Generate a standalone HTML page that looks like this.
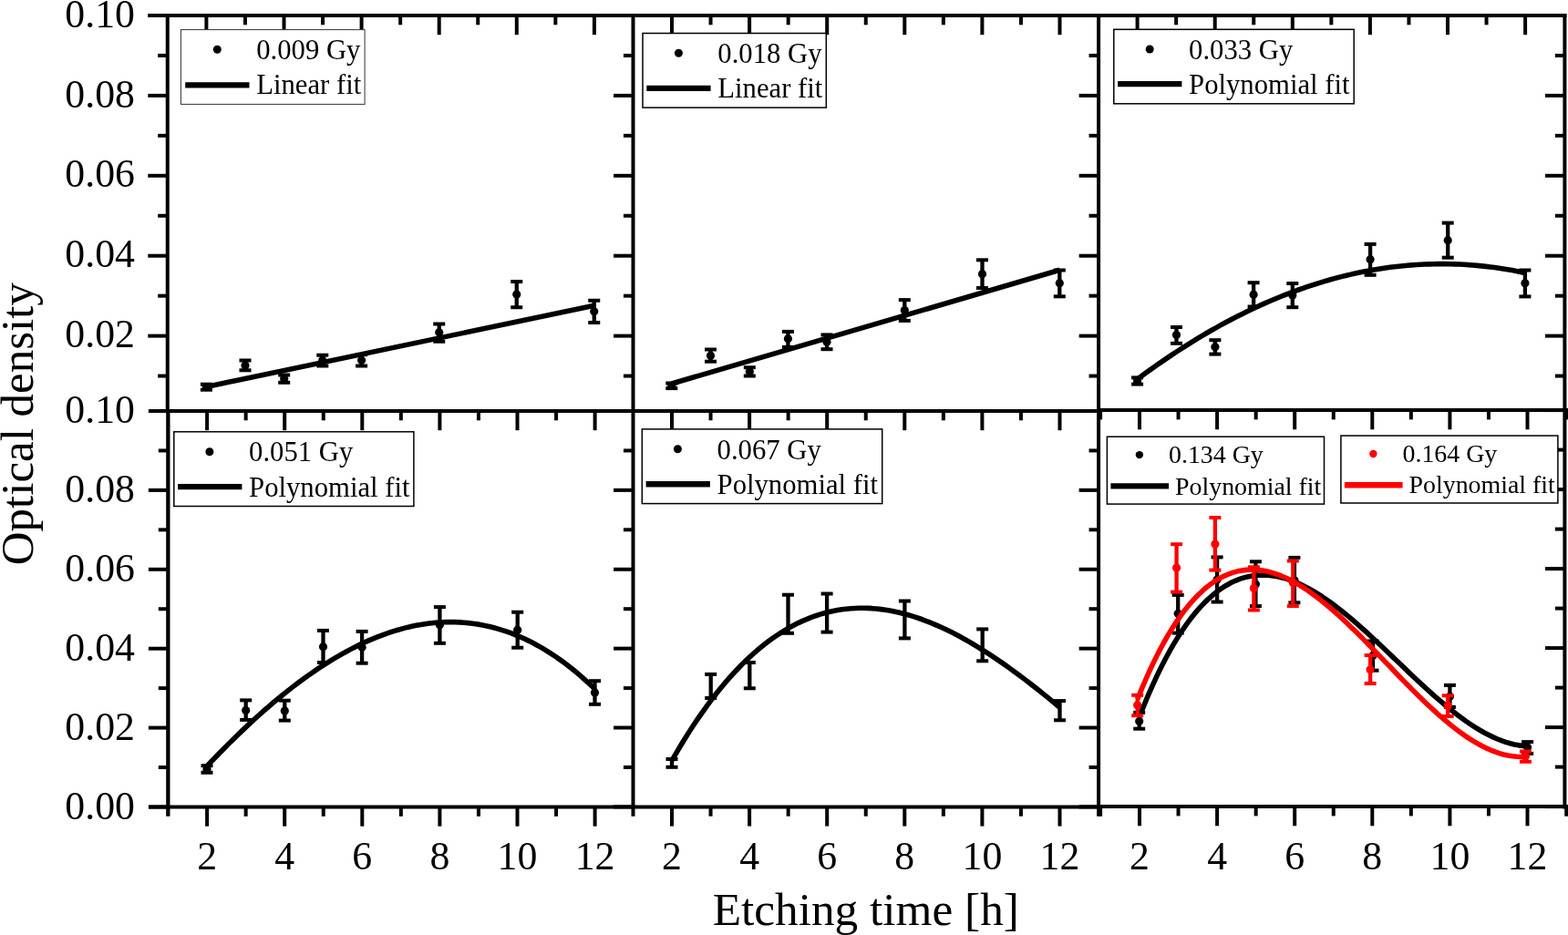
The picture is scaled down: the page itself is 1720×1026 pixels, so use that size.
<!DOCTYPE html>
<html lang="en"><head><meta charset="utf-8"><title>Optical density vs etching time</title>
<style>
html,body{margin:0;padding:0;background:#fff;overflow:hidden}
svg{display:block}
text{font-family:'Liberation Serif', 'DejaVu Serif', serif;fill:#000}
</style></head>
<body>
<svg width="1720" height="1026" viewBox="0 0 1720 1026">
<rect x="0" y="0" width="1720" height="1026" fill="#fff"/>
<line x1="226.40" y1="17.00" x2="226.40" y2="38.20" stroke="#000" stroke-width="4.0" stroke-linecap="butt"/>
<line x1="268.95" y1="17.00" x2="268.95" y2="27.30" stroke="#000" stroke-width="4.0" stroke-linecap="butt"/>
<line x1="311.50" y1="17.00" x2="311.50" y2="38.20" stroke="#000" stroke-width="4.0" stroke-linecap="butt"/>
<line x1="354.05" y1="17.00" x2="354.05" y2="27.30" stroke="#000" stroke-width="4.0" stroke-linecap="butt"/>
<line x1="396.60" y1="17.00" x2="396.60" y2="38.20" stroke="#000" stroke-width="4.0" stroke-linecap="butt"/>
<line x1="439.15" y1="17.00" x2="439.15" y2="27.30" stroke="#000" stroke-width="4.0" stroke-linecap="butt"/>
<line x1="481.70" y1="17.00" x2="481.70" y2="38.20" stroke="#000" stroke-width="4.0" stroke-linecap="butt"/>
<line x1="524.25" y1="17.00" x2="524.25" y2="27.30" stroke="#000" stroke-width="4.0" stroke-linecap="butt"/>
<line x1="566.80" y1="17.00" x2="566.80" y2="38.20" stroke="#000" stroke-width="4.0" stroke-linecap="butt"/>
<line x1="609.35" y1="17.00" x2="609.35" y2="27.30" stroke="#000" stroke-width="4.0" stroke-linecap="butt"/>
<line x1="651.90" y1="17.00" x2="651.90" y2="38.20" stroke="#000" stroke-width="4.0" stroke-linecap="butt"/>
<line x1="227.10" y1="451.00" x2="227.10" y2="472.20" stroke="#000" stroke-width="4.0" stroke-linecap="butt"/>
<line x1="269.65" y1="451.00" x2="269.65" y2="461.30" stroke="#000" stroke-width="4.0" stroke-linecap="butt"/>
<line x1="312.20" y1="451.00" x2="312.20" y2="472.20" stroke="#000" stroke-width="4.0" stroke-linecap="butt"/>
<line x1="354.75" y1="451.00" x2="354.75" y2="461.30" stroke="#000" stroke-width="4.0" stroke-linecap="butt"/>
<line x1="397.30" y1="451.00" x2="397.30" y2="472.20" stroke="#000" stroke-width="4.0" stroke-linecap="butt"/>
<line x1="439.85" y1="451.00" x2="439.85" y2="461.30" stroke="#000" stroke-width="4.0" stroke-linecap="butt"/>
<line x1="482.40" y1="451.00" x2="482.40" y2="472.20" stroke="#000" stroke-width="4.0" stroke-linecap="butt"/>
<line x1="524.95" y1="451.00" x2="524.95" y2="461.30" stroke="#000" stroke-width="4.0" stroke-linecap="butt"/>
<line x1="567.50" y1="451.00" x2="567.50" y2="472.20" stroke="#000" stroke-width="4.0" stroke-linecap="butt"/>
<line x1="610.05" y1="451.00" x2="610.05" y2="461.30" stroke="#000" stroke-width="4.0" stroke-linecap="butt"/>
<line x1="652.60" y1="451.00" x2="652.60" y2="472.20" stroke="#000" stroke-width="4.0" stroke-linecap="butt"/>
<line x1="227.10" y1="885.50" x2="227.10" y2="906.70" stroke="#000" stroke-width="4.0" stroke-linecap="butt"/>
<line x1="269.65" y1="885.50" x2="269.65" y2="895.80" stroke="#000" stroke-width="4.0" stroke-linecap="butt"/>
<line x1="312.20" y1="885.50" x2="312.20" y2="906.70" stroke="#000" stroke-width="4.0" stroke-linecap="butt"/>
<line x1="354.75" y1="885.50" x2="354.75" y2="895.80" stroke="#000" stroke-width="4.0" stroke-linecap="butt"/>
<line x1="397.30" y1="885.50" x2="397.30" y2="906.70" stroke="#000" stroke-width="4.0" stroke-linecap="butt"/>
<line x1="439.85" y1="885.50" x2="439.85" y2="895.80" stroke="#000" stroke-width="4.0" stroke-linecap="butt"/>
<line x1="482.40" y1="885.50" x2="482.40" y2="906.70" stroke="#000" stroke-width="4.0" stroke-linecap="butt"/>
<line x1="524.95" y1="885.50" x2="524.95" y2="895.80" stroke="#000" stroke-width="4.0" stroke-linecap="butt"/>
<line x1="567.50" y1="885.50" x2="567.50" y2="906.70" stroke="#000" stroke-width="4.0" stroke-linecap="butt"/>
<line x1="610.05" y1="885.50" x2="610.05" y2="895.80" stroke="#000" stroke-width="4.0" stroke-linecap="butt"/>
<line x1="652.60" y1="885.50" x2="652.60" y2="906.70" stroke="#000" stroke-width="4.0" stroke-linecap="butt"/>
<line x1="737.00" y1="17.00" x2="737.00" y2="38.20" stroke="#000" stroke-width="4.0" stroke-linecap="butt"/>
<line x1="779.55" y1="17.00" x2="779.55" y2="27.30" stroke="#000" stroke-width="4.0" stroke-linecap="butt"/>
<line x1="822.10" y1="17.00" x2="822.10" y2="38.20" stroke="#000" stroke-width="4.0" stroke-linecap="butt"/>
<line x1="864.65" y1="17.00" x2="864.65" y2="27.30" stroke="#000" stroke-width="4.0" stroke-linecap="butt"/>
<line x1="907.20" y1="17.00" x2="907.20" y2="38.20" stroke="#000" stroke-width="4.0" stroke-linecap="butt"/>
<line x1="949.75" y1="17.00" x2="949.75" y2="27.30" stroke="#000" stroke-width="4.0" stroke-linecap="butt"/>
<line x1="992.30" y1="17.00" x2="992.30" y2="38.20" stroke="#000" stroke-width="4.0" stroke-linecap="butt"/>
<line x1="1034.85" y1="17.00" x2="1034.85" y2="27.30" stroke="#000" stroke-width="4.0" stroke-linecap="butt"/>
<line x1="1077.40" y1="17.00" x2="1077.40" y2="38.20" stroke="#000" stroke-width="4.0" stroke-linecap="butt"/>
<line x1="1119.95" y1="17.00" x2="1119.95" y2="27.30" stroke="#000" stroke-width="4.0" stroke-linecap="butt"/>
<line x1="1162.50" y1="17.00" x2="1162.50" y2="38.20" stroke="#000" stroke-width="4.0" stroke-linecap="butt"/>
<line x1="737.00" y1="451.00" x2="737.00" y2="472.20" stroke="#000" stroke-width="4.0" stroke-linecap="butt"/>
<line x1="779.55" y1="451.00" x2="779.55" y2="461.30" stroke="#000" stroke-width="4.0" stroke-linecap="butt"/>
<line x1="822.10" y1="451.00" x2="822.10" y2="472.20" stroke="#000" stroke-width="4.0" stroke-linecap="butt"/>
<line x1="864.65" y1="451.00" x2="864.65" y2="461.30" stroke="#000" stroke-width="4.0" stroke-linecap="butt"/>
<line x1="907.20" y1="451.00" x2="907.20" y2="472.20" stroke="#000" stroke-width="4.0" stroke-linecap="butt"/>
<line x1="949.75" y1="451.00" x2="949.75" y2="461.30" stroke="#000" stroke-width="4.0" stroke-linecap="butt"/>
<line x1="992.30" y1="451.00" x2="992.30" y2="472.20" stroke="#000" stroke-width="4.0" stroke-linecap="butt"/>
<line x1="1034.85" y1="451.00" x2="1034.85" y2="461.30" stroke="#000" stroke-width="4.0" stroke-linecap="butt"/>
<line x1="1077.40" y1="451.00" x2="1077.40" y2="472.20" stroke="#000" stroke-width="4.0" stroke-linecap="butt"/>
<line x1="1119.95" y1="451.00" x2="1119.95" y2="461.30" stroke="#000" stroke-width="4.0" stroke-linecap="butt"/>
<line x1="1162.50" y1="451.00" x2="1162.50" y2="472.20" stroke="#000" stroke-width="4.0" stroke-linecap="butt"/>
<line x1="737.00" y1="885.40" x2="737.00" y2="906.60" stroke="#000" stroke-width="4.0" stroke-linecap="butt"/>
<line x1="779.55" y1="885.40" x2="779.55" y2="895.70" stroke="#000" stroke-width="4.0" stroke-linecap="butt"/>
<line x1="822.10" y1="885.40" x2="822.10" y2="906.60" stroke="#000" stroke-width="4.0" stroke-linecap="butt"/>
<line x1="864.65" y1="885.40" x2="864.65" y2="895.70" stroke="#000" stroke-width="4.0" stroke-linecap="butt"/>
<line x1="907.20" y1="885.40" x2="907.20" y2="906.60" stroke="#000" stroke-width="4.0" stroke-linecap="butt"/>
<line x1="949.75" y1="885.40" x2="949.75" y2="895.70" stroke="#000" stroke-width="4.0" stroke-linecap="butt"/>
<line x1="992.30" y1="885.40" x2="992.30" y2="906.60" stroke="#000" stroke-width="4.0" stroke-linecap="butt"/>
<line x1="1034.85" y1="885.40" x2="1034.85" y2="895.70" stroke="#000" stroke-width="4.0" stroke-linecap="butt"/>
<line x1="1077.40" y1="885.40" x2="1077.40" y2="906.60" stroke="#000" stroke-width="4.0" stroke-linecap="butt"/>
<line x1="1119.95" y1="885.40" x2="1119.95" y2="895.70" stroke="#000" stroke-width="4.0" stroke-linecap="butt"/>
<line x1="1162.50" y1="885.40" x2="1162.50" y2="906.60" stroke="#000" stroke-width="4.0" stroke-linecap="butt"/>
<line x1="1247.60" y1="17.00" x2="1247.60" y2="38.20" stroke="#000" stroke-width="4.0" stroke-linecap="butt"/>
<line x1="1290.15" y1="17.00" x2="1290.15" y2="27.30" stroke="#000" stroke-width="4.0" stroke-linecap="butt"/>
<line x1="1332.70" y1="17.00" x2="1332.70" y2="38.20" stroke="#000" stroke-width="4.0" stroke-linecap="butt"/>
<line x1="1375.25" y1="17.00" x2="1375.25" y2="27.30" stroke="#000" stroke-width="4.0" stroke-linecap="butt"/>
<line x1="1417.80" y1="17.00" x2="1417.80" y2="38.20" stroke="#000" stroke-width="4.0" stroke-linecap="butt"/>
<line x1="1460.35" y1="17.00" x2="1460.35" y2="27.30" stroke="#000" stroke-width="4.0" stroke-linecap="butt"/>
<line x1="1502.90" y1="17.00" x2="1502.90" y2="38.20" stroke="#000" stroke-width="4.0" stroke-linecap="butt"/>
<line x1="1545.45" y1="17.00" x2="1545.45" y2="27.30" stroke="#000" stroke-width="4.0" stroke-linecap="butt"/>
<line x1="1588.00" y1="17.00" x2="1588.00" y2="38.20" stroke="#000" stroke-width="4.0" stroke-linecap="butt"/>
<line x1="1630.55" y1="17.00" x2="1630.55" y2="27.30" stroke="#000" stroke-width="4.0" stroke-linecap="butt"/>
<line x1="1673.10" y1="17.00" x2="1673.10" y2="38.20" stroke="#000" stroke-width="4.0" stroke-linecap="butt"/>
<line x1="1250.00" y1="450.10" x2="1250.00" y2="471.30" stroke="#000" stroke-width="4.0" stroke-linecap="butt"/>
<line x1="1292.55" y1="450.10" x2="1292.55" y2="460.40" stroke="#000" stroke-width="4.0" stroke-linecap="butt"/>
<line x1="1335.10" y1="450.10" x2="1335.10" y2="471.30" stroke="#000" stroke-width="4.0" stroke-linecap="butt"/>
<line x1="1377.65" y1="450.10" x2="1377.65" y2="460.40" stroke="#000" stroke-width="4.0" stroke-linecap="butt"/>
<line x1="1420.20" y1="450.10" x2="1420.20" y2="471.30" stroke="#000" stroke-width="4.0" stroke-linecap="butt"/>
<line x1="1462.75" y1="450.10" x2="1462.75" y2="460.40" stroke="#000" stroke-width="4.0" stroke-linecap="butt"/>
<line x1="1505.30" y1="450.10" x2="1505.30" y2="471.30" stroke="#000" stroke-width="4.0" stroke-linecap="butt"/>
<line x1="1547.85" y1="450.10" x2="1547.85" y2="460.40" stroke="#000" stroke-width="4.0" stroke-linecap="butt"/>
<line x1="1590.40" y1="450.10" x2="1590.40" y2="471.30" stroke="#000" stroke-width="4.0" stroke-linecap="butt"/>
<line x1="1632.95" y1="450.10" x2="1632.95" y2="460.40" stroke="#000" stroke-width="4.0" stroke-linecap="butt"/>
<line x1="1675.50" y1="450.10" x2="1675.50" y2="471.30" stroke="#000" stroke-width="4.0" stroke-linecap="butt"/>
<line x1="1250.00" y1="885.10" x2="1250.00" y2="906.30" stroke="#000" stroke-width="4.0" stroke-linecap="butt"/>
<line x1="1292.55" y1="885.10" x2="1292.55" y2="895.40" stroke="#000" stroke-width="4.0" stroke-linecap="butt"/>
<line x1="1335.10" y1="885.10" x2="1335.10" y2="906.30" stroke="#000" stroke-width="4.0" stroke-linecap="butt"/>
<line x1="1377.65" y1="885.10" x2="1377.65" y2="895.40" stroke="#000" stroke-width="4.0" stroke-linecap="butt"/>
<line x1="1420.20" y1="885.10" x2="1420.20" y2="906.30" stroke="#000" stroke-width="4.0" stroke-linecap="butt"/>
<line x1="1462.75" y1="885.10" x2="1462.75" y2="895.40" stroke="#000" stroke-width="4.0" stroke-linecap="butt"/>
<line x1="1505.30" y1="885.10" x2="1505.30" y2="906.30" stroke="#000" stroke-width="4.0" stroke-linecap="butt"/>
<line x1="1547.85" y1="885.10" x2="1547.85" y2="895.40" stroke="#000" stroke-width="4.0" stroke-linecap="butt"/>
<line x1="1590.40" y1="885.10" x2="1590.40" y2="906.30" stroke="#000" stroke-width="4.0" stroke-linecap="butt"/>
<line x1="1632.95" y1="885.10" x2="1632.95" y2="895.40" stroke="#000" stroke-width="4.0" stroke-linecap="butt"/>
<line x1="1675.50" y1="885.10" x2="1675.50" y2="906.30" stroke="#000" stroke-width="4.0" stroke-linecap="butt"/>
<line x1="162.30" y1="17.00" x2="183.75" y2="17.00" stroke="#000" stroke-width="4.0" stroke-linecap="butt"/>
<line x1="162.90" y1="451.00" x2="184.35" y2="451.00" stroke="#000" stroke-width="4.0" stroke-linecap="butt"/>
<line x1="173.20" y1="60.95" x2="183.75" y2="60.95" stroke="#000" stroke-width="4.0" stroke-linecap="butt"/>
<line x1="173.80" y1="494.45" x2="184.35" y2="494.45" stroke="#000" stroke-width="4.0" stroke-linecap="butt"/>
<line x1="162.30" y1="104.90" x2="183.75" y2="104.90" stroke="#000" stroke-width="4.0" stroke-linecap="butt"/>
<line x1="162.90" y1="537.90" x2="184.35" y2="537.90" stroke="#000" stroke-width="4.0" stroke-linecap="butt"/>
<line x1="173.20" y1="148.85" x2="183.75" y2="148.85" stroke="#000" stroke-width="4.0" stroke-linecap="butt"/>
<line x1="173.80" y1="581.35" x2="184.35" y2="581.35" stroke="#000" stroke-width="4.0" stroke-linecap="butt"/>
<line x1="162.30" y1="192.80" x2="183.75" y2="192.80" stroke="#000" stroke-width="4.0" stroke-linecap="butt"/>
<line x1="162.90" y1="624.80" x2="184.35" y2="624.80" stroke="#000" stroke-width="4.0" stroke-linecap="butt"/>
<line x1="173.20" y1="236.75" x2="183.75" y2="236.75" stroke="#000" stroke-width="4.0" stroke-linecap="butt"/>
<line x1="173.80" y1="668.25" x2="184.35" y2="668.25" stroke="#000" stroke-width="4.0" stroke-linecap="butt"/>
<line x1="162.30" y1="280.70" x2="183.75" y2="280.70" stroke="#000" stroke-width="4.0" stroke-linecap="butt"/>
<line x1="162.90" y1="711.70" x2="184.35" y2="711.70" stroke="#000" stroke-width="4.0" stroke-linecap="butt"/>
<line x1="173.20" y1="324.65" x2="183.75" y2="324.65" stroke="#000" stroke-width="4.0" stroke-linecap="butt"/>
<line x1="173.80" y1="755.15" x2="184.35" y2="755.15" stroke="#000" stroke-width="4.0" stroke-linecap="butt"/>
<line x1="162.30" y1="368.60" x2="183.75" y2="368.60" stroke="#000" stroke-width="4.0" stroke-linecap="butt"/>
<line x1="162.90" y1="798.60" x2="184.35" y2="798.60" stroke="#000" stroke-width="4.0" stroke-linecap="butt"/>
<line x1="173.20" y1="412.55" x2="183.75" y2="412.55" stroke="#000" stroke-width="4.0" stroke-linecap="butt"/>
<line x1="173.80" y1="842.05" x2="184.35" y2="842.05" stroke="#000" stroke-width="4.0" stroke-linecap="butt"/>
<line x1="162.90" y1="885.50" x2="184.35" y2="885.50" stroke="#000" stroke-width="4.0" stroke-linecap="butt"/>
<line x1="673.05" y1="17.00" x2="694.50" y2="17.00" stroke="#000" stroke-width="4.0" stroke-linecap="butt"/>
<line x1="673.05" y1="451.00" x2="694.50" y2="451.00" stroke="#000" stroke-width="4.0" stroke-linecap="butt"/>
<line x1="683.95" y1="60.95" x2="694.50" y2="60.95" stroke="#000" stroke-width="4.0" stroke-linecap="butt"/>
<line x1="683.95" y1="494.44" x2="694.50" y2="494.44" stroke="#000" stroke-width="4.0" stroke-linecap="butt"/>
<line x1="673.05" y1="104.90" x2="694.50" y2="104.90" stroke="#000" stroke-width="4.0" stroke-linecap="butt"/>
<line x1="673.05" y1="537.88" x2="694.50" y2="537.88" stroke="#000" stroke-width="4.0" stroke-linecap="butt"/>
<line x1="683.95" y1="148.85" x2="694.50" y2="148.85" stroke="#000" stroke-width="4.0" stroke-linecap="butt"/>
<line x1="683.95" y1="581.32" x2="694.50" y2="581.32" stroke="#000" stroke-width="4.0" stroke-linecap="butt"/>
<line x1="673.05" y1="192.80" x2="694.50" y2="192.80" stroke="#000" stroke-width="4.0" stroke-linecap="butt"/>
<line x1="673.05" y1="624.76" x2="694.50" y2="624.76" stroke="#000" stroke-width="4.0" stroke-linecap="butt"/>
<line x1="683.95" y1="236.75" x2="694.50" y2="236.75" stroke="#000" stroke-width="4.0" stroke-linecap="butt"/>
<line x1="683.95" y1="668.20" x2="694.50" y2="668.20" stroke="#000" stroke-width="4.0" stroke-linecap="butt"/>
<line x1="673.05" y1="280.70" x2="694.50" y2="280.70" stroke="#000" stroke-width="4.0" stroke-linecap="butt"/>
<line x1="673.05" y1="711.64" x2="694.50" y2="711.64" stroke="#000" stroke-width="4.0" stroke-linecap="butt"/>
<line x1="683.95" y1="324.65" x2="694.50" y2="324.65" stroke="#000" stroke-width="4.0" stroke-linecap="butt"/>
<line x1="683.95" y1="755.08" x2="694.50" y2="755.08" stroke="#000" stroke-width="4.0" stroke-linecap="butt"/>
<line x1="673.05" y1="368.60" x2="694.50" y2="368.60" stroke="#000" stroke-width="4.0" stroke-linecap="butt"/>
<line x1="673.05" y1="798.52" x2="694.50" y2="798.52" stroke="#000" stroke-width="4.0" stroke-linecap="butt"/>
<line x1="683.95" y1="412.55" x2="694.50" y2="412.55" stroke="#000" stroke-width="4.0" stroke-linecap="butt"/>
<line x1="683.95" y1="841.96" x2="694.50" y2="841.96" stroke="#000" stroke-width="4.0" stroke-linecap="butt"/>
<line x1="673.05" y1="885.40" x2="694.50" y2="885.40" stroke="#000" stroke-width="4.0" stroke-linecap="butt"/>
<line x1="1183.65" y1="17.00" x2="1205.10" y2="17.00" stroke="#000" stroke-width="4.0" stroke-linecap="butt"/>
<line x1="1183.65" y1="451.00" x2="1205.10" y2="451.00" stroke="#000" stroke-width="4.0" stroke-linecap="butt"/>
<line x1="1194.55" y1="60.95" x2="1205.10" y2="60.95" stroke="#000" stroke-width="4.0" stroke-linecap="butt"/>
<line x1="1194.55" y1="494.44" x2="1205.10" y2="494.44" stroke="#000" stroke-width="4.0" stroke-linecap="butt"/>
<line x1="1183.65" y1="104.90" x2="1205.10" y2="104.90" stroke="#000" stroke-width="4.0" stroke-linecap="butt"/>
<line x1="1183.65" y1="537.88" x2="1205.10" y2="537.88" stroke="#000" stroke-width="4.0" stroke-linecap="butt"/>
<line x1="1194.55" y1="148.85" x2="1205.10" y2="148.85" stroke="#000" stroke-width="4.0" stroke-linecap="butt"/>
<line x1="1194.55" y1="581.32" x2="1205.10" y2="581.32" stroke="#000" stroke-width="4.0" stroke-linecap="butt"/>
<line x1="1183.65" y1="192.80" x2="1205.10" y2="192.80" stroke="#000" stroke-width="4.0" stroke-linecap="butt"/>
<line x1="1183.65" y1="624.76" x2="1205.10" y2="624.76" stroke="#000" stroke-width="4.0" stroke-linecap="butt"/>
<line x1="1194.55" y1="236.75" x2="1205.10" y2="236.75" stroke="#000" stroke-width="4.0" stroke-linecap="butt"/>
<line x1="1194.55" y1="668.20" x2="1205.10" y2="668.20" stroke="#000" stroke-width="4.0" stroke-linecap="butt"/>
<line x1="1183.65" y1="280.70" x2="1205.10" y2="280.70" stroke="#000" stroke-width="4.0" stroke-linecap="butt"/>
<line x1="1183.65" y1="711.64" x2="1205.10" y2="711.64" stroke="#000" stroke-width="4.0" stroke-linecap="butt"/>
<line x1="1194.55" y1="324.65" x2="1205.10" y2="324.65" stroke="#000" stroke-width="4.0" stroke-linecap="butt"/>
<line x1="1194.55" y1="755.08" x2="1205.10" y2="755.08" stroke="#000" stroke-width="4.0" stroke-linecap="butt"/>
<line x1="1183.65" y1="368.60" x2="1205.10" y2="368.60" stroke="#000" stroke-width="4.0" stroke-linecap="butt"/>
<line x1="1183.65" y1="798.52" x2="1205.10" y2="798.52" stroke="#000" stroke-width="4.0" stroke-linecap="butt"/>
<line x1="1194.55" y1="412.55" x2="1205.10" y2="412.55" stroke="#000" stroke-width="4.0" stroke-linecap="butt"/>
<line x1="1194.55" y1="841.96" x2="1205.10" y2="841.96" stroke="#000" stroke-width="4.0" stroke-linecap="butt"/>
<line x1="1183.65" y1="885.40" x2="1205.10" y2="885.40" stroke="#000" stroke-width="4.0" stroke-linecap="butt"/>
<line x1="1694.95" y1="17.00" x2="1716.40" y2="17.00" stroke="#000" stroke-width="4.0" stroke-linecap="butt"/>
<line x1="1694.95" y1="450.10" x2="1716.40" y2="450.10" stroke="#000" stroke-width="4.0" stroke-linecap="butt"/>
<line x1="1705.85" y1="60.95" x2="1716.40" y2="60.95" stroke="#000" stroke-width="4.0" stroke-linecap="butt"/>
<line x1="1705.85" y1="493.60" x2="1716.40" y2="493.60" stroke="#000" stroke-width="4.0" stroke-linecap="butt"/>
<line x1="1694.95" y1="104.90" x2="1716.40" y2="104.90" stroke="#000" stroke-width="4.0" stroke-linecap="butt"/>
<line x1="1694.95" y1="537.10" x2="1716.40" y2="537.10" stroke="#000" stroke-width="4.0" stroke-linecap="butt"/>
<line x1="1705.85" y1="148.85" x2="1716.40" y2="148.85" stroke="#000" stroke-width="4.0" stroke-linecap="butt"/>
<line x1="1705.85" y1="580.60" x2="1716.40" y2="580.60" stroke="#000" stroke-width="4.0" stroke-linecap="butt"/>
<line x1="1694.95" y1="192.80" x2="1716.40" y2="192.80" stroke="#000" stroke-width="4.0" stroke-linecap="butt"/>
<line x1="1694.95" y1="624.10" x2="1716.40" y2="624.10" stroke="#000" stroke-width="4.0" stroke-linecap="butt"/>
<line x1="1705.85" y1="236.75" x2="1716.40" y2="236.75" stroke="#000" stroke-width="4.0" stroke-linecap="butt"/>
<line x1="1705.85" y1="667.60" x2="1716.40" y2="667.60" stroke="#000" stroke-width="4.0" stroke-linecap="butt"/>
<line x1="1694.95" y1="280.70" x2="1716.40" y2="280.70" stroke="#000" stroke-width="4.0" stroke-linecap="butt"/>
<line x1="1694.95" y1="711.10" x2="1716.40" y2="711.10" stroke="#000" stroke-width="4.0" stroke-linecap="butt"/>
<line x1="1705.85" y1="324.65" x2="1716.40" y2="324.65" stroke="#000" stroke-width="4.0" stroke-linecap="butt"/>
<line x1="1705.85" y1="754.60" x2="1716.40" y2="754.60" stroke="#000" stroke-width="4.0" stroke-linecap="butt"/>
<line x1="1694.95" y1="368.60" x2="1716.40" y2="368.60" stroke="#000" stroke-width="4.0" stroke-linecap="butt"/>
<line x1="1694.95" y1="798.10" x2="1716.40" y2="798.10" stroke="#000" stroke-width="4.0" stroke-linecap="butt"/>
<line x1="1705.85" y1="412.55" x2="1716.40" y2="412.55" stroke="#000" stroke-width="4.0" stroke-linecap="butt"/>
<line x1="1705.85" y1="841.60" x2="1716.40" y2="841.60" stroke="#000" stroke-width="4.0" stroke-linecap="butt"/>
<line x1="1694.95" y1="885.10" x2="1716.40" y2="885.10" stroke="#000" stroke-width="4.0" stroke-linecap="butt"/>
<line x1="226.40" y1="421.70" x2="226.40" y2="427.70" stroke="#000" stroke-width="4.3" stroke-linecap="butt"/>
<line x1="219.90" y1="421.70" x2="232.90" y2="421.70" stroke="#000" stroke-width="4.0" stroke-linecap="butt"/>
<line x1="219.90" y1="427.70" x2="232.90" y2="427.70" stroke="#000" stroke-width="4.0" stroke-linecap="butt"/>
<circle cx="226.40" cy="424.60" r="4.6" fill="#000"/>
<line x1="269.00" y1="395.50" x2="269.00" y2="406.30" stroke="#000" stroke-width="4.3" stroke-linecap="butt"/>
<line x1="262.50" y1="395.50" x2="275.50" y2="395.50" stroke="#000" stroke-width="4.0" stroke-linecap="butt"/>
<line x1="262.50" y1="406.30" x2="275.50" y2="406.30" stroke="#000" stroke-width="4.0" stroke-linecap="butt"/>
<circle cx="269.00" cy="400.90" r="4.6" fill="#000"/>
<line x1="311.70" y1="411.50" x2="311.70" y2="419.80" stroke="#000" stroke-width="4.3" stroke-linecap="butt"/>
<line x1="305.20" y1="411.50" x2="318.20" y2="411.50" stroke="#000" stroke-width="4.0" stroke-linecap="butt"/>
<line x1="305.20" y1="419.80" x2="318.20" y2="419.80" stroke="#000" stroke-width="4.0" stroke-linecap="butt"/>
<circle cx="311.70" cy="415.60" r="4.6" fill="#000"/>
<line x1="353.80" y1="389.70" x2="353.80" y2="401.50" stroke="#000" stroke-width="4.3" stroke-linecap="butt"/>
<line x1="347.30" y1="389.70" x2="360.30" y2="389.70" stroke="#000" stroke-width="4.0" stroke-linecap="butt"/>
<line x1="347.30" y1="401.50" x2="360.30" y2="401.50" stroke="#000" stroke-width="4.0" stroke-linecap="butt"/>
<circle cx="353.80" cy="395.30" r="4.6" fill="#000"/>
<line x1="396.60" y1="389.20" x2="396.60" y2="401.50" stroke="#000" stroke-width="4.3" stroke-linecap="butt"/>
<line x1="390.10" y1="389.20" x2="403.10" y2="389.20" stroke="#000" stroke-width="4.0" stroke-linecap="butt"/>
<line x1="390.10" y1="401.50" x2="403.10" y2="401.50" stroke="#000" stroke-width="4.0" stroke-linecap="butt"/>
<circle cx="396.60" cy="395.30" r="4.6" fill="#000"/>
<line x1="481.75" y1="355.50" x2="481.75" y2="374.75" stroke="#000" stroke-width="4.3" stroke-linecap="butt"/>
<line x1="475.25" y1="355.50" x2="488.25" y2="355.50" stroke="#000" stroke-width="4.0" stroke-linecap="butt"/>
<line x1="475.25" y1="374.75" x2="488.25" y2="374.75" stroke="#000" stroke-width="4.0" stroke-linecap="butt"/>
<circle cx="481.75" cy="364.75" r="4.6" fill="#000"/>
<line x1="566.75" y1="309.00" x2="566.75" y2="337.25" stroke="#000" stroke-width="4.3" stroke-linecap="butt"/>
<line x1="560.25" y1="309.00" x2="573.25" y2="309.00" stroke="#000" stroke-width="4.0" stroke-linecap="butt"/>
<line x1="560.25" y1="337.25" x2="573.25" y2="337.25" stroke="#000" stroke-width="4.0" stroke-linecap="butt"/>
<circle cx="566.75" cy="323.00" r="4.6" fill="#000"/>
<line x1="651.75" y1="329.75" x2="651.75" y2="354.00" stroke="#000" stroke-width="4.3" stroke-linecap="butt"/>
<line x1="645.25" y1="329.75" x2="658.25" y2="329.75" stroke="#000" stroke-width="4.0" stroke-linecap="butt"/>
<line x1="645.25" y1="354.00" x2="658.25" y2="354.00" stroke="#000" stroke-width="4.0" stroke-linecap="butt"/>
<circle cx="651.75" cy="341.75" r="4.6" fill="#000"/>
<path d="M226.4,424.4 L651.9,335.3" stroke="#000" stroke-width="5.6" fill="none"/>
<line x1="736.80" y1="420.50" x2="736.80" y2="426.10" stroke="#000" stroke-width="4.3" stroke-linecap="butt"/>
<line x1="730.30" y1="420.50" x2="743.30" y2="420.50" stroke="#000" stroke-width="4.0" stroke-linecap="butt"/>
<line x1="730.30" y1="426.10" x2="743.30" y2="426.10" stroke="#000" stroke-width="4.0" stroke-linecap="butt"/>
<circle cx="736.80" cy="423.30" r="4.6" fill="#000"/>
<line x1="779.50" y1="383.50" x2="779.50" y2="396.70" stroke="#000" stroke-width="4.3" stroke-linecap="butt"/>
<line x1="773.00" y1="383.50" x2="786.00" y2="383.50" stroke="#000" stroke-width="4.0" stroke-linecap="butt"/>
<line x1="773.00" y1="396.70" x2="786.00" y2="396.70" stroke="#000" stroke-width="4.0" stroke-linecap="butt"/>
<circle cx="779.50" cy="390.20" r="4.6" fill="#000"/>
<line x1="822.30" y1="403.20" x2="822.30" y2="412.50" stroke="#000" stroke-width="4.3" stroke-linecap="butt"/>
<line x1="815.80" y1="403.20" x2="828.80" y2="403.20" stroke="#000" stroke-width="4.0" stroke-linecap="butt"/>
<line x1="815.80" y1="412.50" x2="828.80" y2="412.50" stroke="#000" stroke-width="4.0" stroke-linecap="butt"/>
<circle cx="822.30" cy="407.70" r="4.6" fill="#000"/>
<line x1="864.40" y1="363.90" x2="864.40" y2="380.90" stroke="#000" stroke-width="4.3" stroke-linecap="butt"/>
<line x1="857.90" y1="363.90" x2="870.90" y2="363.90" stroke="#000" stroke-width="4.0" stroke-linecap="butt"/>
<line x1="857.90" y1="380.90" x2="870.90" y2="380.90" stroke="#000" stroke-width="4.0" stroke-linecap="butt"/>
<circle cx="864.40" cy="371.80" r="4.6" fill="#000"/>
<line x1="907.00" y1="367.40" x2="907.00" y2="383.20" stroke="#000" stroke-width="4.3" stroke-linecap="butt"/>
<line x1="900.50" y1="367.40" x2="913.50" y2="367.40" stroke="#000" stroke-width="4.0" stroke-linecap="butt"/>
<line x1="900.50" y1="383.20" x2="913.50" y2="383.20" stroke="#000" stroke-width="4.0" stroke-linecap="butt"/>
<circle cx="907.00" cy="375.30" r="4.6" fill="#000"/>
<line x1="992.30" y1="329.10" x2="992.30" y2="351.90" stroke="#000" stroke-width="4.3" stroke-linecap="butt"/>
<line x1="985.80" y1="329.10" x2="998.80" y2="329.10" stroke="#000" stroke-width="4.0" stroke-linecap="butt"/>
<line x1="985.80" y1="351.90" x2="998.80" y2="351.90" stroke="#000" stroke-width="4.0" stroke-linecap="butt"/>
<circle cx="992.30" cy="340.50" r="4.6" fill="#000"/>
<line x1="1077.50" y1="285.30" x2="1077.50" y2="316.00" stroke="#000" stroke-width="4.3" stroke-linecap="butt"/>
<line x1="1071.00" y1="285.30" x2="1084.00" y2="285.30" stroke="#000" stroke-width="4.0" stroke-linecap="butt"/>
<line x1="1071.00" y1="316.00" x2="1084.00" y2="316.00" stroke="#000" stroke-width="4.0" stroke-linecap="butt"/>
<circle cx="1077.50" cy="300.70" r="4.6" fill="#000"/>
<line x1="1162.30" y1="296.50" x2="1162.30" y2="325.30" stroke="#000" stroke-width="4.3" stroke-linecap="butt"/>
<line x1="1155.80" y1="296.50" x2="1168.80" y2="296.50" stroke="#000" stroke-width="4.0" stroke-linecap="butt"/>
<line x1="1155.80" y1="325.30" x2="1168.80" y2="325.30" stroke="#000" stroke-width="4.0" stroke-linecap="butt"/>
<circle cx="1162.30" cy="310.70" r="4.6" fill="#000"/>
<path d="M736.8,421.0 L1162.5,296.3" stroke="#000" stroke-width="5.6" fill="none"/>
<line x1="1247.60" y1="414.40" x2="1247.60" y2="421.60" stroke="#000" stroke-width="4.3" stroke-linecap="butt"/>
<line x1="1241.10" y1="414.40" x2="1254.10" y2="414.40" stroke="#000" stroke-width="4.0" stroke-linecap="butt"/>
<line x1="1241.10" y1="421.60" x2="1254.10" y2="421.60" stroke="#000" stroke-width="4.0" stroke-linecap="butt"/>
<circle cx="1247.60" cy="418.00" r="4.6" fill="#000"/>
<line x1="1290.50" y1="359.00" x2="1290.50" y2="376.80" stroke="#000" stroke-width="4.3" stroke-linecap="butt"/>
<line x1="1284.00" y1="359.00" x2="1297.00" y2="359.00" stroke="#000" stroke-width="4.0" stroke-linecap="butt"/>
<line x1="1284.00" y1="376.80" x2="1297.00" y2="376.80" stroke="#000" stroke-width="4.0" stroke-linecap="butt"/>
<circle cx="1290.50" cy="367.60" r="4.6" fill="#000"/>
<line x1="1332.90" y1="373.20" x2="1332.90" y2="388.60" stroke="#000" stroke-width="4.3" stroke-linecap="butt"/>
<line x1="1326.40" y1="373.20" x2="1339.40" y2="373.20" stroke="#000" stroke-width="4.0" stroke-linecap="butt"/>
<line x1="1326.40" y1="388.60" x2="1339.40" y2="388.60" stroke="#000" stroke-width="4.0" stroke-linecap="butt"/>
<circle cx="1332.90" cy="380.70" r="4.6" fill="#000"/>
<line x1="1375.10" y1="310.20" x2="1375.10" y2="336.50" stroke="#000" stroke-width="4.3" stroke-linecap="butt"/>
<line x1="1368.60" y1="310.20" x2="1381.60" y2="310.20" stroke="#000" stroke-width="4.0" stroke-linecap="butt"/>
<line x1="1368.60" y1="336.50" x2="1381.60" y2="336.50" stroke="#000" stroke-width="4.0" stroke-linecap="butt"/>
<circle cx="1375.10" cy="323.20" r="4.6" fill="#000"/>
<line x1="1417.80" y1="311.00" x2="1417.80" y2="337.20" stroke="#000" stroke-width="4.3" stroke-linecap="butt"/>
<line x1="1411.30" y1="311.00" x2="1424.30" y2="311.00" stroke="#000" stroke-width="4.0" stroke-linecap="butt"/>
<line x1="1411.30" y1="337.20" x2="1424.30" y2="337.20" stroke="#000" stroke-width="4.0" stroke-linecap="butt"/>
<circle cx="1417.80" cy="323.90" r="4.6" fill="#000"/>
<line x1="1503.10" y1="267.90" x2="1503.10" y2="301.80" stroke="#000" stroke-width="4.3" stroke-linecap="butt"/>
<line x1="1496.60" y1="267.90" x2="1509.60" y2="267.90" stroke="#000" stroke-width="4.0" stroke-linecap="butt"/>
<line x1="1496.60" y1="301.80" x2="1509.60" y2="301.80" stroke="#000" stroke-width="4.0" stroke-linecap="butt"/>
<circle cx="1503.10" cy="284.70" r="4.6" fill="#000"/>
<line x1="1588.20" y1="244.60" x2="1588.20" y2="282.70" stroke="#000" stroke-width="4.3" stroke-linecap="butt"/>
<line x1="1581.70" y1="244.60" x2="1594.70" y2="244.60" stroke="#000" stroke-width="4.0" stroke-linecap="butt"/>
<line x1="1581.70" y1="282.70" x2="1594.70" y2="282.70" stroke="#000" stroke-width="4.0" stroke-linecap="butt"/>
<circle cx="1588.20" cy="263.70" r="4.6" fill="#000"/>
<line x1="1672.90" y1="296.50" x2="1672.90" y2="325.40" stroke="#000" stroke-width="4.3" stroke-linecap="butt"/>
<line x1="1666.40" y1="296.50" x2="1679.40" y2="296.50" stroke="#000" stroke-width="4.0" stroke-linecap="butt"/>
<line x1="1666.40" y1="325.40" x2="1679.40" y2="325.40" stroke="#000" stroke-width="4.0" stroke-linecap="butt"/>
<circle cx="1672.90" cy="310.80" r="4.6" fill="#000"/>
<path d="M1247.60,416.13 L1252.38,412.59 L1257.16,409.09 L1261.94,405.64 L1266.71,402.24 L1271.49,398.88 L1276.27,395.58 L1281.05,392.33 L1285.83,389.13 L1290.61,385.97 L1295.39,382.87 L1300.17,379.81 L1304.94,376.81 L1309.72,373.85 L1314.50,370.95 L1319.28,368.09 L1324.06,365.28 L1328.84,362.53 L1333.62,359.82 L1338.39,357.17 L1343.17,354.56 L1347.95,352.01 L1352.73,349.50 L1357.51,347.05 L1362.29,344.64 L1367.07,342.29 L1371.84,339.99 L1376.62,337.73 L1381.40,335.53 L1386.18,333.38 L1390.96,331.28 L1395.74,329.23 L1400.52,327.23 L1405.30,325.28 L1410.07,323.39 L1414.85,321.54 L1419.63,319.75 L1424.41,318.00 L1429.19,316.31 L1433.97,314.67 L1438.75,313.08 L1443.52,311.54 L1448.30,310.06 L1453.08,308.62 L1457.86,307.24 L1462.64,305.91 L1467.42,304.63 L1472.20,303.40 L1476.98,302.23 L1481.75,301.10 L1486.53,300.03 L1491.31,299.01 L1496.09,298.04 L1500.87,297.13 L1505.65,296.26 L1510.43,295.45 L1515.20,294.70 L1519.98,293.99 L1524.76,293.34 L1529.54,292.73 L1534.32,292.19 L1539.10,291.69 L1543.88,291.25 L1548.66,290.86 L1553.43,290.52 L1558.21,290.24 L1562.99,290.00 L1567.77,289.83 L1572.55,289.70 L1577.33,289.63 L1582.11,289.61 L1586.88,289.64 L1591.66,289.73 L1596.44,289.87 L1601.22,290.07 L1606.00,290.32 L1610.78,290.62 L1615.56,290.97 L1620.33,291.38 L1625.11,291.85 L1629.89,292.36 L1634.67,292.93 L1639.45,293.56 L1644.23,294.24 L1649.01,294.97 L1653.79,295.76 L1658.56,296.60 L1663.34,297.49 L1668.12,298.44 L1672.90,299.45" fill="none" stroke="#000" stroke-width="5.6" stroke-linejoin="round" stroke-linecap="butt"/>
<line x1="227.00" y1="840.20" x2="227.00" y2="847.80" stroke="#000" stroke-width="4.3" stroke-linecap="butt"/>
<line x1="220.50" y1="840.20" x2="233.50" y2="840.20" stroke="#000" stroke-width="4.0" stroke-linecap="butt"/>
<line x1="220.50" y1="847.80" x2="233.50" y2="847.80" stroke="#000" stroke-width="4.0" stroke-linecap="butt"/>
<circle cx="227.00" cy="844.20" r="4.6" fill="#000"/>
<line x1="269.70" y1="768.40" x2="269.70" y2="789.90" stroke="#000" stroke-width="4.3" stroke-linecap="butt"/>
<line x1="263.20" y1="768.40" x2="276.20" y2="768.40" stroke="#000" stroke-width="4.0" stroke-linecap="butt"/>
<line x1="263.20" y1="789.90" x2="276.20" y2="789.90" stroke="#000" stroke-width="4.0" stroke-linecap="butt"/>
<circle cx="269.70" cy="779.60" r="4.6" fill="#000"/>
<line x1="312.30" y1="768.70" x2="312.30" y2="790.60" stroke="#000" stroke-width="4.3" stroke-linecap="butt"/>
<line x1="305.80" y1="768.70" x2="318.80" y2="768.70" stroke="#000" stroke-width="4.0" stroke-linecap="butt"/>
<line x1="305.80" y1="790.60" x2="318.80" y2="790.60" stroke="#000" stroke-width="4.0" stroke-linecap="butt"/>
<circle cx="312.30" cy="779.90" r="4.6" fill="#000"/>
<line x1="354.50" y1="691.90" x2="354.50" y2="727.00" stroke="#000" stroke-width="4.3" stroke-linecap="butt"/>
<line x1="348.00" y1="691.90" x2="361.00" y2="691.90" stroke="#000" stroke-width="4.0" stroke-linecap="butt"/>
<line x1="348.00" y1="727.00" x2="361.00" y2="727.00" stroke="#000" stroke-width="4.0" stroke-linecap="butt"/>
<circle cx="354.50" cy="709.70" r="4.6" fill="#000"/>
<line x1="397.10" y1="692.90" x2="397.10" y2="727.70" stroke="#000" stroke-width="4.3" stroke-linecap="butt"/>
<line x1="390.60" y1="692.90" x2="403.60" y2="692.90" stroke="#000" stroke-width="4.0" stroke-linecap="butt"/>
<line x1="390.60" y1="727.70" x2="403.60" y2="727.70" stroke="#000" stroke-width="4.0" stroke-linecap="butt"/>
<circle cx="397.10" cy="710.20" r="4.6" fill="#000"/>
<line x1="482.40" y1="666.10" x2="482.40" y2="705.80" stroke="#000" stroke-width="4.3" stroke-linecap="butt"/>
<line x1="475.90" y1="666.10" x2="488.90" y2="666.10" stroke="#000" stroke-width="4.0" stroke-linecap="butt"/>
<line x1="475.90" y1="705.80" x2="488.90" y2="705.80" stroke="#000" stroke-width="4.0" stroke-linecap="butt"/>
<circle cx="482.40" cy="685.80" r="4.6" fill="#000"/>
<line x1="567.70" y1="671.70" x2="567.70" y2="710.70" stroke="#000" stroke-width="4.3" stroke-linecap="butt"/>
<line x1="561.20" y1="671.70" x2="574.20" y2="671.70" stroke="#000" stroke-width="4.0" stroke-linecap="butt"/>
<line x1="561.20" y1="710.70" x2="574.20" y2="710.70" stroke="#000" stroke-width="4.0" stroke-linecap="butt"/>
<circle cx="567.70" cy="691.20" r="4.6" fill="#000"/>
<line x1="652.50" y1="747.20" x2="652.50" y2="772.80" stroke="#000" stroke-width="4.3" stroke-linecap="butt"/>
<line x1="646.00" y1="747.20" x2="659.00" y2="747.20" stroke="#000" stroke-width="4.0" stroke-linecap="butt"/>
<line x1="646.00" y1="772.80" x2="659.00" y2="772.80" stroke="#000" stroke-width="4.0" stroke-linecap="butt"/>
<circle cx="652.50" cy="759.90" r="4.6" fill="#000"/>
<path d="M227.00,840.73 L231.78,835.69 L236.56,830.71 L241.34,825.79 L246.12,820.93 L250.90,816.13 L255.69,811.40 L260.47,806.74 L265.25,802.14 L270.03,797.62 L274.81,793.16 L279.59,788.77 L284.37,784.46 L289.15,780.21 L293.93,776.05 L298.71,771.95 L303.49,767.94 L308.28,764.00 L313.06,760.13 L317.84,756.35 L322.62,752.65 L327.40,749.03 L332.18,745.50 L336.96,742.04 L341.74,738.68 L346.52,735.40 L351.30,732.20 L356.08,729.10 L360.87,726.08 L365.65,723.16 L370.43,720.33 L375.21,717.59 L379.99,714.94 L384.77,712.39 L389.55,709.94 L394.33,707.58 L399.11,705.32 L403.89,703.17 L408.67,701.11 L413.46,699.15 L418.24,697.30 L423.02,695.55 L427.80,693.91 L432.58,692.37 L437.36,690.95 L442.14,689.63 L446.92,688.41 L451.70,687.31 L456.48,686.33 L461.26,685.45 L466.04,684.69 L470.83,684.05 L475.61,683.52 L480.39,683.11 L485.17,682.81 L489.95,682.64 L494.73,682.59 L499.51,682.66 L504.29,682.85 L509.07,683.17 L513.85,683.62 L518.63,684.18 L523.42,684.88 L528.20,685.71 L532.98,686.66 L537.76,687.75 L542.54,688.97 L547.32,690.32 L552.10,691.81 L556.88,693.43 L561.66,695.19 L566.44,697.08 L571.22,699.12 L576.01,701.29 L580.79,703.61 L585.57,706.07 L590.35,708.67 L595.13,711.41 L599.91,714.30 L604.69,717.34 L609.47,720.53 L614.25,723.86 L619.03,727.34 L623.81,730.98 L628.60,734.76 L633.38,738.71 L638.16,742.80 L642.94,747.05 L647.72,751.46 L652.50,756.02" fill="none" stroke="#000" stroke-width="5.6" stroke-linejoin="round" stroke-linecap="butt"/>
<line x1="737.00" y1="833.00" x2="737.00" y2="841.80" stroke="#000" stroke-width="4.3" stroke-linecap="butt"/>
<line x1="730.50" y1="833.00" x2="743.50" y2="833.00" stroke="#000" stroke-width="4.0" stroke-linecap="butt"/>
<line x1="730.50" y1="841.80" x2="743.50" y2="841.80" stroke="#000" stroke-width="4.0" stroke-linecap="butt"/>
<line x1="779.70" y1="739.90" x2="779.70" y2="766.00" stroke="#000" stroke-width="4.3" stroke-linecap="butt"/>
<line x1="773.20" y1="739.90" x2="786.20" y2="739.90" stroke="#000" stroke-width="4.0" stroke-linecap="butt"/>
<line x1="773.20" y1="766.00" x2="786.20" y2="766.00" stroke="#000" stroke-width="4.0" stroke-linecap="butt"/>
<line x1="822.30" y1="727.00" x2="822.30" y2="755.30" stroke="#000" stroke-width="4.3" stroke-linecap="butt"/>
<line x1="815.80" y1="727.00" x2="828.80" y2="727.00" stroke="#000" stroke-width="4.0" stroke-linecap="butt"/>
<line x1="815.80" y1="755.30" x2="828.80" y2="755.30" stroke="#000" stroke-width="4.0" stroke-linecap="butt"/>
<line x1="864.50" y1="652.70" x2="864.50" y2="694.80" stroke="#000" stroke-width="4.3" stroke-linecap="butt"/>
<line x1="858.00" y1="652.70" x2="871.00" y2="652.70" stroke="#000" stroke-width="4.0" stroke-linecap="butt"/>
<line x1="858.00" y1="694.80" x2="871.00" y2="694.80" stroke="#000" stroke-width="4.0" stroke-linecap="butt"/>
<line x1="907.10" y1="651.50" x2="907.10" y2="693.60" stroke="#000" stroke-width="4.3" stroke-linecap="butt"/>
<line x1="900.60" y1="651.50" x2="913.60" y2="651.50" stroke="#000" stroke-width="4.0" stroke-linecap="butt"/>
<line x1="900.60" y1="693.60" x2="913.60" y2="693.60" stroke="#000" stroke-width="4.0" stroke-linecap="butt"/>
<line x1="992.40" y1="659.50" x2="992.40" y2="700.40" stroke="#000" stroke-width="4.3" stroke-linecap="butt"/>
<line x1="985.90" y1="659.50" x2="998.90" y2="659.50" stroke="#000" stroke-width="4.0" stroke-linecap="butt"/>
<line x1="985.90" y1="700.40" x2="998.90" y2="700.40" stroke="#000" stroke-width="4.0" stroke-linecap="butt"/>
<line x1="1077.70" y1="690.40" x2="1077.70" y2="725.30" stroke="#000" stroke-width="4.3" stroke-linecap="butt"/>
<line x1="1071.20" y1="690.40" x2="1084.20" y2="690.40" stroke="#000" stroke-width="4.0" stroke-linecap="butt"/>
<line x1="1071.20" y1="725.30" x2="1084.20" y2="725.30" stroke="#000" stroke-width="4.0" stroke-linecap="butt"/>
<line x1="1162.50" y1="769.10" x2="1162.50" y2="790.30" stroke="#000" stroke-width="4.3" stroke-linecap="butt"/>
<line x1="1156.00" y1="769.10" x2="1169.00" y2="769.10" stroke="#000" stroke-width="4.0" stroke-linecap="butt"/>
<line x1="1156.00" y1="790.30" x2="1169.00" y2="790.30" stroke="#000" stroke-width="4.0" stroke-linecap="butt"/>
<path d="M737.00,834.65 L741.78,826.35 L746.56,818.28 L751.34,810.46 L756.12,802.88 L760.90,795.53 L765.69,788.41 L770.47,781.53 L775.25,774.87 L780.03,768.44 L784.81,762.24 L789.59,756.25 L794.37,750.48 L799.15,744.93 L803.93,739.59 L808.71,734.47 L813.49,729.55 L818.28,724.84 L823.06,720.34 L827.84,716.04 L832.62,711.94 L837.40,708.03 L842.18,704.32 L846.96,700.81 L851.74,697.48 L856.52,694.34 L861.30,691.39 L866.08,688.62 L870.87,686.03 L875.65,683.62 L880.43,681.39 L885.21,679.33 L889.99,677.44 L894.77,675.72 L899.55,674.16 L904.33,672.78 L909.11,671.55 L913.89,670.48 L918.67,669.57 L923.46,668.82 L928.24,668.22 L933.02,667.76 L937.80,667.46 L942.58,667.30 L947.36,667.29 L952.14,667.41 L956.92,667.67 L961.70,668.07 L966.48,668.61 L971.26,669.27 L976.04,670.06 L980.83,670.98 L985.61,672.02 L990.39,673.19 L995.17,674.47 L999.95,675.88 L1004.73,677.39 L1009.51,679.02 L1014.29,680.76 L1019.07,682.60 L1023.85,684.56 L1028.63,686.61 L1033.42,688.76 L1038.20,691.02 L1042.98,693.36 L1047.76,695.81 L1052.54,698.34 L1057.32,700.96 L1062.10,703.67 L1066.88,706.46 L1071.66,709.33 L1076.44,712.28 L1081.22,715.31 L1086.01,718.41 L1090.79,721.59 L1095.57,724.83 L1100.35,728.14 L1105.13,731.52 L1109.91,734.96 L1114.69,738.46 L1119.47,742.02 L1124.25,745.63 L1129.03,749.30 L1133.81,753.01 L1138.60,756.78 L1143.38,760.59 L1148.16,764.44 L1152.94,768.34 L1157.72,772.27 L1162.50,776.25" fill="none" stroke="#000" stroke-width="5.6" stroke-linejoin="round" stroke-linecap="butt"/>
<line x1="1249.70" y1="781.90" x2="1249.70" y2="799.70" stroke="#000" stroke-width="4.3" stroke-linecap="butt"/>
<line x1="1243.20" y1="781.90" x2="1256.20" y2="781.90" stroke="#000" stroke-width="4.0" stroke-linecap="butt"/>
<line x1="1243.20" y1="799.70" x2="1256.20" y2="799.70" stroke="#000" stroke-width="4.0" stroke-linecap="butt"/>
<circle cx="1249.70" cy="791.50" r="4.6" fill="#000"/>
<line x1="1292.20" y1="652.90" x2="1292.20" y2="694.60" stroke="#000" stroke-width="4.3" stroke-linecap="butt"/>
<line x1="1285.70" y1="652.90" x2="1298.70" y2="652.90" stroke="#000" stroke-width="4.0" stroke-linecap="butt"/>
<line x1="1285.70" y1="694.60" x2="1298.70" y2="694.60" stroke="#000" stroke-width="4.0" stroke-linecap="butt"/>
<circle cx="1292.20" cy="673.30" r="4.6" fill="#000"/>
<line x1="1335.10" y1="611.40" x2="1335.10" y2="660.50" stroke="#000" stroke-width="4.3" stroke-linecap="butt"/>
<line x1="1328.60" y1="611.40" x2="1341.60" y2="611.40" stroke="#000" stroke-width="4.0" stroke-linecap="butt"/>
<line x1="1328.60" y1="660.50" x2="1341.60" y2="660.50" stroke="#000" stroke-width="4.0" stroke-linecap="butt"/>
<circle cx="1335.10" cy="636.00" r="4.6" fill="#000"/>
<line x1="1377.40" y1="616.30" x2="1377.40" y2="665.10" stroke="#000" stroke-width="4.3" stroke-linecap="butt"/>
<line x1="1370.90" y1="616.30" x2="1383.90" y2="616.30" stroke="#000" stroke-width="4.0" stroke-linecap="butt"/>
<line x1="1370.90" y1="665.10" x2="1383.90" y2="665.10" stroke="#000" stroke-width="4.0" stroke-linecap="butt"/>
<circle cx="1377.40" cy="640.90" r="4.6" fill="#000"/>
<line x1="1419.90" y1="611.90" x2="1419.90" y2="661.30" stroke="#000" stroke-width="4.3" stroke-linecap="butt"/>
<line x1="1413.40" y1="611.90" x2="1426.40" y2="611.90" stroke="#000" stroke-width="4.0" stroke-linecap="butt"/>
<line x1="1413.40" y1="661.30" x2="1426.40" y2="661.30" stroke="#000" stroke-width="4.0" stroke-linecap="butt"/>
<circle cx="1419.90" cy="636.80" r="4.6" fill="#000"/>
<line x1="1506.00" y1="703.50" x2="1506.00" y2="735.70" stroke="#000" stroke-width="4.3" stroke-linecap="butt"/>
<line x1="1499.50" y1="703.50" x2="1512.50" y2="703.50" stroke="#000" stroke-width="4.0" stroke-linecap="butt"/>
<line x1="1499.50" y1="735.70" x2="1512.50" y2="735.70" stroke="#000" stroke-width="4.0" stroke-linecap="butt"/>
<circle cx="1506.00" cy="719.60" r="4.6" fill="#000"/>
<line x1="1590.40" y1="751.90" x2="1590.40" y2="775.90" stroke="#000" stroke-width="4.3" stroke-linecap="butt"/>
<line x1="1583.90" y1="751.90" x2="1596.90" y2="751.90" stroke="#000" stroke-width="4.0" stroke-linecap="butt"/>
<line x1="1583.90" y1="775.90" x2="1596.90" y2="775.90" stroke="#000" stroke-width="4.0" stroke-linecap="butt"/>
<circle cx="1590.40" cy="764.20" r="4.6" fill="#000"/>
<line x1="1675.60" y1="814.10" x2="1675.60" y2="826.90" stroke="#000" stroke-width="4.3" stroke-linecap="butt"/>
<line x1="1669.10" y1="814.10" x2="1682.10" y2="814.10" stroke="#000" stroke-width="4.0" stroke-linecap="butt"/>
<line x1="1669.10" y1="826.90" x2="1682.10" y2="826.90" stroke="#000" stroke-width="4.0" stroke-linecap="butt"/>
<circle cx="1675.60" cy="820.10" r="4.6" fill="#000"/>
<path d="M1249.70,786.96 L1254.49,774.93 L1259.27,763.45 L1264.06,752.53 L1268.84,742.15 L1273.63,732.31 L1278.41,722.99 L1283.20,714.19 L1287.98,705.89 L1292.77,698.09 L1297.55,690.77 L1302.34,683.93 L1307.12,677.55 L1311.91,671.63 L1316.70,666.16 L1321.48,661.13 L1326.27,656.52 L1331.05,652.33 L1335.84,648.55 L1340.62,645.17 L1345.41,642.17 L1350.19,639.56 L1354.98,637.31 L1359.76,635.42 L1364.55,633.89 L1369.33,632.69 L1374.12,631.82 L1378.91,631.28 L1383.69,631.04 L1388.48,631.11 L1393.26,631.46 L1398.05,632.10 L1402.83,633.01 L1407.62,634.19 L1412.40,635.61 L1417.19,637.28 L1421.97,639.18 L1426.76,641.31 L1431.54,643.65 L1436.33,646.19 L1441.12,648.93 L1445.90,651.85 L1450.69,654.95 L1455.47,658.21 L1460.26,661.63 L1465.04,665.19 L1469.83,668.89 L1474.61,672.72 L1479.40,676.66 L1484.18,680.71 L1488.97,684.86 L1493.76,689.09 L1498.54,693.41 L1503.33,697.79 L1508.11,702.23 L1512.90,706.71 L1517.68,711.24 L1522.47,715.79 L1527.25,720.37 L1532.04,724.95 L1536.82,729.54 L1541.61,734.11 L1546.39,738.67 L1551.18,743.20 L1555.97,747.68 L1560.75,752.12 L1565.54,756.51 L1570.32,760.82 L1575.11,765.06 L1579.89,769.20 L1584.68,773.26 L1589.46,777.20 L1594.25,781.03 L1599.03,784.73 L1603.82,788.30 L1608.60,791.72 L1613.39,794.98 L1618.18,798.08 L1622.96,801.01 L1627.75,803.75 L1632.53,806.30 L1637.32,808.64 L1642.10,810.77 L1646.89,812.67 L1651.67,814.35 L1656.46,815.78 L1661.24,816.96 L1666.03,817.87 L1670.81,818.52 L1675.60,818.88" fill="none" stroke="#000" stroke-width="5.6" stroke-linejoin="round" stroke-linecap="butt"/>
<line x1="1247.70" y1="762.80" x2="1247.70" y2="785.20" stroke="#ff0000" stroke-width="4.3" stroke-linecap="butt"/>
<line x1="1241.20" y1="762.80" x2="1254.20" y2="762.80" stroke="#ff0000" stroke-width="4.0" stroke-linecap="butt"/>
<line x1="1241.20" y1="785.20" x2="1254.20" y2="785.20" stroke="#ff0000" stroke-width="4.0" stroke-linecap="butt"/>
<circle cx="1247.70" cy="773.70" r="4.6" fill="#ff0000"/>
<line x1="1290.60" y1="597.20" x2="1290.60" y2="649.60" stroke="#ff0000" stroke-width="4.3" stroke-linecap="butt"/>
<line x1="1284.10" y1="597.20" x2="1297.10" y2="597.20" stroke="#ff0000" stroke-width="4.0" stroke-linecap="butt"/>
<line x1="1284.10" y1="649.60" x2="1297.10" y2="649.60" stroke="#ff0000" stroke-width="4.0" stroke-linecap="butt"/>
<circle cx="1290.60" cy="623.10" r="4.6" fill="#ff0000"/>
<line x1="1332.90" y1="568.00" x2="1332.90" y2="625.60" stroke="#ff0000" stroke-width="4.3" stroke-linecap="butt"/>
<line x1="1326.40" y1="568.00" x2="1339.40" y2="568.00" stroke="#ff0000" stroke-width="4.0" stroke-linecap="butt"/>
<line x1="1326.40" y1="625.60" x2="1339.40" y2="625.60" stroke="#ff0000" stroke-width="4.0" stroke-linecap="butt"/>
<circle cx="1332.90" cy="596.90" r="4.6" fill="#ff0000"/>
<line x1="1375.40" y1="622.30" x2="1375.40" y2="669.50" stroke="#ff0000" stroke-width="4.3" stroke-linecap="butt"/>
<line x1="1368.90" y1="622.30" x2="1381.90" y2="622.30" stroke="#ff0000" stroke-width="4.0" stroke-linecap="butt"/>
<line x1="1368.90" y1="669.50" x2="1381.90" y2="669.50" stroke="#ff0000" stroke-width="4.0" stroke-linecap="butt"/>
<circle cx="1375.40" cy="645.50" r="4.6" fill="#ff0000"/>
<line x1="1418.30" y1="615.50" x2="1418.30" y2="665.10" stroke="#ff0000" stroke-width="4.3" stroke-linecap="butt"/>
<line x1="1411.80" y1="615.50" x2="1424.80" y2="615.50" stroke="#ff0000" stroke-width="4.0" stroke-linecap="butt"/>
<line x1="1411.80" y1="665.10" x2="1424.80" y2="665.10" stroke="#ff0000" stroke-width="4.0" stroke-linecap="butt"/>
<circle cx="1418.30" cy="639.50" r="4.6" fill="#ff0000"/>
<line x1="1503.10" y1="719.10" x2="1503.10" y2="750.00" stroke="#ff0000" stroke-width="4.3" stroke-linecap="butt"/>
<line x1="1496.60" y1="719.10" x2="1509.60" y2="719.10" stroke="#ff0000" stroke-width="4.0" stroke-linecap="butt"/>
<line x1="1496.60" y1="750.00" x2="1509.60" y2="750.00" stroke="#ff0000" stroke-width="4.0" stroke-linecap="butt"/>
<circle cx="1503.10" cy="734.70" r="4.6" fill="#ff0000"/>
<line x1="1588.20" y1="763.30" x2="1588.20" y2="786.00" stroke="#ff0000" stroke-width="4.3" stroke-linecap="butt"/>
<line x1="1581.70" y1="763.30" x2="1594.70" y2="763.30" stroke="#ff0000" stroke-width="4.0" stroke-linecap="butt"/>
<line x1="1581.70" y1="786.00" x2="1594.70" y2="786.00" stroke="#ff0000" stroke-width="4.0" stroke-linecap="butt"/>
<circle cx="1588.20" cy="774.50" r="4.6" fill="#ff0000"/>
<line x1="1673.40" y1="824.50" x2="1673.40" y2="835.80" stroke="#ff0000" stroke-width="4.3" stroke-linecap="butt"/>
<line x1="1666.90" y1="824.50" x2="1679.90" y2="824.50" stroke="#ff0000" stroke-width="4.0" stroke-linecap="butt"/>
<line x1="1666.90" y1="835.80" x2="1679.90" y2="835.80" stroke="#ff0000" stroke-width="4.0" stroke-linecap="butt"/>
<circle cx="1673.40" cy="830.00" r="4.6" fill="#ff0000"/>
<path d="M1247.70,767.42 L1252.48,755.68 L1257.27,744.51 L1262.05,733.93 L1266.83,723.90 L1271.62,714.43 L1276.40,705.51 L1281.18,697.12 L1285.97,689.25 L1290.75,681.89 L1295.53,675.03 L1300.31,668.67 L1305.10,662.79 L1309.88,657.38 L1314.66,652.43 L1319.45,647.93 L1324.23,643.87 L1329.01,640.23 L1333.80,637.02 L1338.58,634.21 L1343.36,631.81 L1348.15,629.79 L1352.93,628.14 L1357.71,626.87 L1362.50,625.95 L1367.28,625.37 L1372.06,625.13 L1376.84,625.21 L1381.63,625.61 L1386.41,626.32 L1391.19,627.31 L1395.98,628.59 L1400.76,630.15 L1405.54,631.96 L1410.33,634.03 L1415.11,636.33 L1419.89,638.87 L1424.68,641.63 L1429.46,644.60 L1434.24,647.77 L1439.03,651.13 L1443.81,654.67 L1448.59,658.37 L1453.38,662.23 L1458.16,666.24 L1462.94,670.39 L1467.72,674.67 L1472.51,679.06 L1477.29,683.55 L1482.07,688.15 L1486.86,692.82 L1491.64,697.58 L1496.42,702.39 L1501.21,707.26 L1505.99,712.17 L1510.77,717.12 L1515.56,722.09 L1520.34,727.07 L1525.12,732.05 L1529.91,737.02 L1534.69,741.97 L1539.47,746.90 L1544.26,751.78 L1549.04,756.61 L1553.82,761.38 L1558.60,766.08 L1563.39,770.70 L1568.17,775.23 L1572.95,779.65 L1577.74,783.96 L1582.52,788.15 L1587.30,792.20 L1592.09,796.11 L1596.87,799.86 L1601.65,803.45 L1606.44,806.86 L1611.22,810.09 L1616.00,813.12 L1620.79,815.94 L1625.57,818.55 L1630.35,820.92 L1635.13,823.06 L1639.92,824.95 L1644.70,826.59 L1649.48,827.95 L1654.27,829.03 L1659.05,829.82 L1663.83,830.31 L1668.62,830.49 L1673.40,830.35" fill="none" stroke="#ff0000" stroke-width="5.6" stroke-linejoin="round" stroke-linecap="butt"/>
<line x1="162.50" y1="17.00" x2="1718.40" y2="17.00" stroke="#000" stroke-width="4.0" stroke-linecap="butt"/>
<line x1="163.00" y1="451.00" x2="1205.10" y2="451.00" stroke="#000" stroke-width="4.0" stroke-linecap="butt"/>
<line x1="1203.10" y1="450.10" x2="1720.00" y2="450.10" stroke="#000" stroke-width="4.0" stroke-linecap="butt"/>
<line x1="163.00" y1="885.50" x2="1205.10" y2="885.50" stroke="#000" stroke-width="4.0" stroke-linecap="butt"/>
<line x1="1203.10" y1="885.10" x2="1720.00" y2="885.10" stroke="#000" stroke-width="4.0" stroke-linecap="butt"/>
<line x1="183.75" y1="15.00" x2="183.75" y2="451.00" stroke="#000" stroke-width="4.0" stroke-linecap="butt"/>
<line x1="184.35" y1="449.00" x2="184.35" y2="895.80" stroke="#000" stroke-width="4.3" stroke-linecap="butt"/>
<line x1="694.50" y1="15.00" x2="694.50" y2="895.70" stroke="#000" stroke-width="4.0" stroke-linecap="butt"/>
<line x1="1205.10" y1="15.00" x2="1205.10" y2="895.70" stroke="#000" stroke-width="4.0" stroke-linecap="butt"/>
<line x1="1716.40" y1="15.00" x2="1716.40" y2="887.40" stroke="#000" stroke-width="4.0" stroke-linecap="butt"/>
<line x1="1207.10" y1="450.10" x2="1207.10" y2="460.40" stroke="#000" stroke-width="4.0" stroke-linecap="butt"/>
<line x1="1207.10" y1="885.40" x2="1207.10" y2="895.70" stroke="#000" stroke-width="4.0" stroke-linecap="butt"/>
<line x1="1718.20" y1="450.10" x2="1718.20" y2="460.40" stroke="#000" stroke-width="4.0" stroke-linecap="butt"/>
<line x1="1718.20" y1="885.40" x2="1718.20" y2="895.70" stroke="#000" stroke-width="4.0" stroke-linecap="butt"/>
<rect x="198.40" y="32.60" width="201.70" height="81.80" fill="#fff" stroke="#333" stroke-width="1.0"/>
<circle cx="238.30" cy="54.20" r="4.5" fill="#000"/>
<line x1="203.20" y1="93.40" x2="273.50" y2="93.40" stroke="#000" stroke-width="6.4" stroke-linecap="butt"/>
<text x="281.20" y="64.90" font-size="30.7" text-anchor="start" >0.009 Gy</text>
<text x="281.20" y="102.90" font-size="30.7" text-anchor="start" >Linear fit</text>
<rect x="705.00" y="36.50" width="201.30" height="81.60" fill="#fff" stroke="#000" stroke-width="1.5"/>
<circle cx="744.40" cy="58.30" r="4.5" fill="#000"/>
<line x1="709.30" y1="96.90" x2="779.60" y2="96.90" stroke="#000" stroke-width="6.4" stroke-linecap="butt"/>
<text x="787.30" y="68.80" font-size="30.7" text-anchor="start" >0.018 Gy</text>
<text x="787.30" y="106.80" font-size="30.7" text-anchor="start" >Linear fit</text>
<rect x="1221.80" y="32.30" width="263.40" height="81.50" fill="#fff" stroke="#000" stroke-width="1.5"/>
<circle cx="1261.20" cy="54.00" r="4.5" fill="#000"/>
<line x1="1226.10" y1="92.10" x2="1296.40" y2="92.10" stroke="#000" stroke-width="6.4" stroke-linecap="butt"/>
<text x="1304.10" y="64.60" font-size="30.7" text-anchor="start" >0.033 Gy</text>
<text x="1304.10" y="102.60" font-size="30.7" text-anchor="start" >Polynomial fit</text>
<rect x="190.80" y="473.80" width="263.10" height="81.70" fill="#fff" stroke="#000" stroke-width="1.5"/>
<circle cx="229.90" cy="495.70" r="4.5" fill="#000"/>
<line x1="195.10" y1="534.10" x2="265.40" y2="534.10" stroke="#000" stroke-width="6.4" stroke-linecap="butt"/>
<text x="273.10" y="505.80" font-size="30.7" text-anchor="start" >0.051 Gy</text>
<text x="273.10" y="544.60" font-size="30.7" text-anchor="start" >Polynomial fit</text>
<rect x="704.30" y="470.90" width="263.40" height="81.70" fill="#fff" stroke="#000" stroke-width="1.5"/>
<circle cx="743.40" cy="492.80" r="4.5" fill="#000"/>
<line x1="708.60" y1="531.30" x2="778.90" y2="531.30" stroke="#000" stroke-width="6.4" stroke-linecap="butt"/>
<text x="786.60" y="503.50" font-size="30.7" text-anchor="start" >0.067 Gy</text>
<text x="786.60" y="542.00" font-size="30.7" text-anchor="start" >Polynomial fit</text>
<rect x="1214.40" y="479.20" width="238.10" height="73.90" fill="#fff" stroke="#000" stroke-width="1.5"/>
<circle cx="1249.90" cy="499.10" r="4.2" fill="#000"/>
<line x1="1218.40" y1="533.40" x2="1282.10" y2="533.40" stroke="#000" stroke-width="6.4" stroke-linecap="butt"/>
<text x="1282.00" y="508.20" font-size="27.9" text-anchor="start" >0.134 Gy</text>
<text x="1289.00" y="542.50" font-size="27.9" text-anchor="start" >Polynomial fit</text>
<rect x="1470.90" y="478.10" width="238.00" height="73.90" fill="#fff" stroke="#000" stroke-width="1.5"/>
<circle cx="1506.40" cy="498.00" r="4.2" fill="#ff0000"/>
<line x1="1474.90" y1="532.30" x2="1538.60" y2="532.30" stroke="#ff0000" stroke-width="6.4" stroke-linecap="butt"/>
<text x="1538.50" y="507.10" font-size="27.9" text-anchor="start" >0.164 Gy</text>
<text x="1545.50" y="541.40" font-size="27.9" text-anchor="start" >Polynomial fit</text>
<text x="148.00" y="29.60" font-size="43.8" text-anchor="end" >0.10</text>
<text x="148.00" y="117.50" font-size="43.8" text-anchor="end" >0.08</text>
<text x="148.00" y="205.40" font-size="43.8" text-anchor="end" >0.06</text>
<text x="148.00" y="293.30" font-size="43.8" text-anchor="end" >0.04</text>
<text x="148.00" y="381.20" font-size="43.8" text-anchor="end" >0.02</text>
<text x="148.00" y="464.40" font-size="43.8" text-anchor="end" >0.10</text>
<text x="148.00" y="551.30" font-size="43.8" text-anchor="end" >0.08</text>
<text x="148.00" y="638.20" font-size="43.8" text-anchor="end" >0.06</text>
<text x="148.00" y="725.10" font-size="43.8" text-anchor="end" >0.04</text>
<text x="148.00" y="812.00" font-size="43.8" text-anchor="end" >0.02</text>
<text x="148.00" y="898.90" font-size="43.8" text-anchor="end" >0.00</text>
<text x="227.10" y="954.00" font-size="43.8" text-anchor="middle" >2</text>
<text x="312.20" y="954.00" font-size="43.8" text-anchor="middle" >4</text>
<text x="397.30" y="954.00" font-size="43.8" text-anchor="middle" >6</text>
<text x="482.40" y="954.00" font-size="43.8" text-anchor="middle" >8</text>
<text x="567.50" y="954.00" font-size="43.8" text-anchor="middle" >10</text>
<text x="652.60" y="954.00" font-size="43.8" text-anchor="middle" >12</text>
<text x="737.00" y="954.00" font-size="43.8" text-anchor="middle" >2</text>
<text x="822.10" y="954.00" font-size="43.8" text-anchor="middle" >4</text>
<text x="907.20" y="954.00" font-size="43.8" text-anchor="middle" >6</text>
<text x="992.30" y="954.00" font-size="43.8" text-anchor="middle" >8</text>
<text x="1077.40" y="954.00" font-size="43.8" text-anchor="middle" >10</text>
<text x="1162.50" y="954.00" font-size="43.8" text-anchor="middle" >12</text>
<text x="1250.00" y="954.00" font-size="43.8" text-anchor="middle" >2</text>
<text x="1335.10" y="954.00" font-size="43.8" text-anchor="middle" >4</text>
<text x="1420.20" y="954.00" font-size="43.8" text-anchor="middle" >6</text>
<text x="1505.30" y="954.00" font-size="43.8" text-anchor="middle" >8</text>
<text x="1590.40" y="954.00" font-size="43.8" text-anchor="middle" >10</text>
<text x="1675.50" y="954.00" font-size="43.8" text-anchor="middle" >12</text>
<text x="949.80" y="1015.00" font-size="51.3" text-anchor="middle" >Etching time [h]</text>
<text transform="translate(36.2,465.2) rotate(-90)" font-size="51.0" text-anchor="middle">Optical density</text>
</svg>
</body></html>
